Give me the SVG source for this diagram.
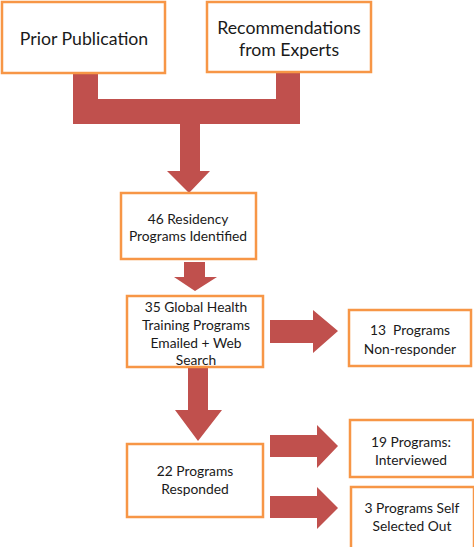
<svg xmlns="http://www.w3.org/2000/svg" width="474" height="547" viewBox="0 0 474 547">
<style>
.box{fill:#fff;stroke:#F79646;stroke-width:2.5}
.arr{fill:#C0504D}
text{font-family:Lato,"Open Sans","Liberation Sans",sans-serif;fill:#1a1a1a;text-anchor:middle;dominant-baseline:central;white-space:pre}
.big{font-size:17.7px}
.sm{font-size:13.8px}
</style>
<rect width="474" height="547" fill="#fff"/>
<g id="connectors">
<path class="arr" d="M73,73 H98 V99 H276 V73 H300 V124 H200 V171 H210 L189,193 L167,171 H180 V124 H73 Z"/>
<path class="arr" d="M184,262 H205 V277 H217 L195,291 L174,277 H184 Z"/>
<path class="arr" d="M270,320 H313 V310 L338,331 L313,353 V343 H270 Z"/>
<path class="arr" d="M188,368 H208 V410 H222 L198,441 L175,410 H188 Z"/>
<path class="arr" d="M270,435 H317 V425 L338,446 L317,468 V457 H270 Z"/>
<path class="arr" d="M270,496 H317 V487 L338,508 L317,529 V518 H270 Z"/>
</g>
<g id="prior"><rect class="box" x="2" y="2" width="163" height="71"/><text class="big" x="84" y="38">Prior Publication</text></g>
<g id="experts"><rect class="box" x="207" y="2" width="164" height="70"/><text class="big" x="289" y="27">Recommendations</text><text class="big" x="289" y="49">from Experts</text></g>
<g id="n46"><rect class="box" x="121" y="193" width="135" height="66"/><text class="sm" x="188" y="218">46 Residency</text><text class="sm" x="188" y="235">Programs Identified</text></g>
<g id="n35"><rect class="box" x="127" y="296" width="136" height="71"/><text class="sm" x="196" y="306">35 Global Health</text><text class="sm" x="196" y="324">Training Programs</text><text class="sm" x="196" y="342">Emailed + Web</text><text class="sm" x="196" y="359">Search</text></g>
<g id="n13"><rect class="box" x="349" y="310" width="122" height="56"/><text class="sm" x="410" y="329">13  Programs</text><text class="sm" x="410" y="348">Non-responder</text></g>
<g id="n22"><rect class="box" x="127" y="444" width="136" height="73"/><text class="sm" x="195" y="470">22 Programs</text><text class="sm" x="195" y="488">Responded</text></g>
<g id="n19"><rect class="box" x="350" y="420" width="123" height="57"/><text class="sm" x="411" y="441">19 Programs:</text><text class="sm" x="411" y="459">Interviewed</text></g>
<g id="n3"><rect class="box" x="351" y="487" width="123" height="64"/><text class="sm" x="412" y="507">3 Programs Self</text><text class="sm" x="412" y="525">Selected Out</text></g>
</svg>
